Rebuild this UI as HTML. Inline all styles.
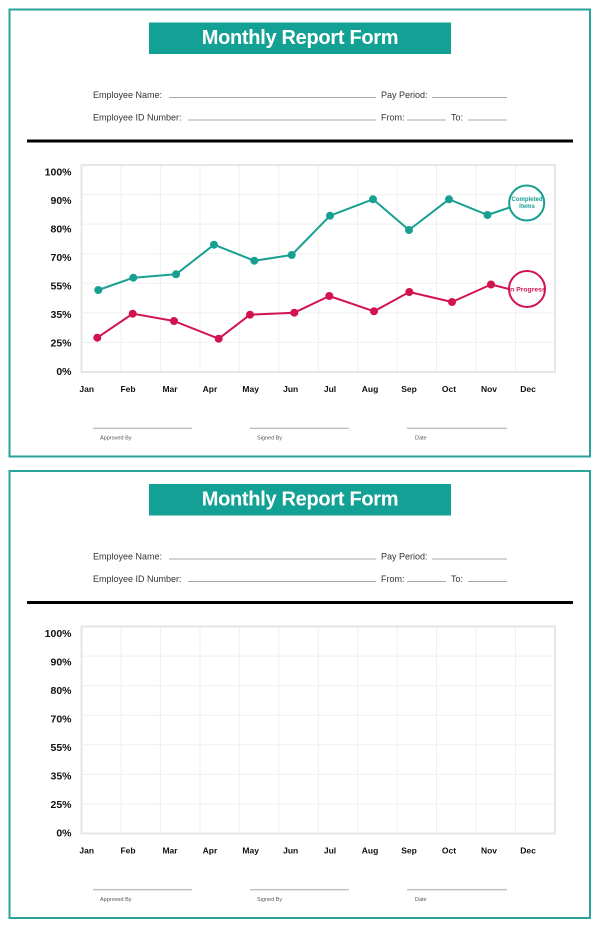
<!DOCTYPE html>
<html>
<head>
<meta charset="utf-8">
<style>
  html,body{margin:0;padding:0;background:#fff;}
  body{width:600px;height:928px;overflow:hidden;}
  svg{display:block;}
  .t{font-family:"Liberation Sans",Arial,sans-serif;}
</style>
</head>
<body>
<svg width="600" height="928" viewBox="0 0 600 928" xmlns="http://www.w3.org/2000/svg">
  <defs>
    <g id="panel">
      <rect x="9.5" y="9.5" width="580.5" height="447" fill="#fff" stroke="#2aa39a" stroke-width="2"/>
      <rect x="149" y="22.5" width="302" height="31.5" fill="#14a195"/>
      <text class="t" x="300" y="44" text-anchor="middle" font-size="20" font-weight="bold" fill="#fff" letter-spacing="-0.3">Monthly Report Form</text>

      <g class="t" font-size="9" fill="#333">
        <text x="93" y="98">Employee Name:</text>
        <text x="381" y="98">Pay Period:</text>
        <text x="93" y="120.5">Employee ID Number:</text>
        <text x="381" y="120.5">From:</text>
        <text x="451" y="120.5">To:</text>
      </g>
      <g stroke="#a8a8a8" stroke-width="1">
        <line x1="169" y1="97.5" x2="376" y2="97.5"/>
        <line x1="432" y1="97.5" x2="507" y2="97.5"/>
        <line x1="188" y1="120" x2="376" y2="120"/>
        <line x1="407" y1="120" x2="446" y2="120"/>
        <line x1="468" y1="120" x2="507" y2="120"/>
      </g>
      <rect x="27" y="139.5" width="546" height="3" fill="#000"/>

      <!-- grid -->
      <g stroke="#efefef" stroke-width="1">
        <line x1="81.5" y1="194.6" x2="555" y2="194.6"/>
        <line x1="81.5" y1="224.1" x2="555" y2="224.1"/>
        <line x1="81.5" y1="253.7" x2="555" y2="253.7"/>
        <line x1="81.5" y1="283.3" x2="555" y2="283.3"/>
        <line x1="81.5" y1="312.9" x2="555" y2="312.9"/>
        <line x1="81.5" y1="342.4" x2="555" y2="342.4"/>
        <line x1="121" y1="165" x2="121" y2="372"/>
        <line x1="160.4" y1="165" x2="160.4" y2="372"/>
        <line x1="199.9" y1="165" x2="199.9" y2="372"/>
        <line x1="239.3" y1="165" x2="239.3" y2="372"/>
        <line x1="278.8" y1="165" x2="278.8" y2="372"/>
        <line x1="318.3" y1="165" x2="318.3" y2="372"/>
        <line x1="357.7" y1="165" x2="357.7" y2="372"/>
        <line x1="397.2" y1="165" x2="397.2" y2="372"/>
        <line x1="436.6" y1="165" x2="436.6" y2="372"/>
        <line x1="476.1" y1="165" x2="476.1" y2="372"/>
        <line x1="515.5" y1="165" x2="515.5" y2="372"/>
      </g>
      <rect x="81.5" y="165" width="473.5" height="207" fill="none" stroke="#e6e6e6" stroke-width="2"/>

      <g class="t" font-size="10.5" font-weight="bold" fill="#111" text-anchor="end">
        <text x="71.5" y="175.3">100%</text>
        <text x="71.5" y="203.8">90%</text>
        <text x="71.5" y="232.4">80%</text>
        <text x="71.5" y="260.8">70%</text>
        <text x="71.5" y="289.4">55%</text>
        <text x="71.5" y="317.8">35%</text>
        <text x="71.5" y="346.3">25%</text>
        <text x="71.5" y="374.8">0%</text>
      </g>
      <g class="t" font-size="8.5" font-weight="bold" fill="#111" text-anchor="middle">
        <text x="86.7" y="392">Jan</text>
        <text x="128" y="392">Feb</text>
        <text x="170" y="392">Mar</text>
        <text x="210" y="392">Apr</text>
        <text x="250.7" y="392">May</text>
        <text x="290.7" y="392">Jun</text>
        <text x="330" y="392">Jul</text>
        <text x="370" y="392">Aug</text>
        <text x="409" y="392">Sep</text>
        <text x="449" y="392">Oct</text>
        <text x="489" y="392">Nov</text>
        <text x="528" y="392">Dec</text>
      </g>

      <g stroke="#a8a8a8" stroke-width="1">
        <line x1="93" y1="428.2" x2="192" y2="428.2"/>
        <line x1="250" y1="428.2" x2="349" y2="428.2"/>
        <line x1="407" y1="428.2" x2="507" y2="428.2"/>
      </g>
      <g class="t" font-size="5.5" fill="#555">
        <text x="100" y="439.5">Approved By</text>
        <text x="257" y="439.5">Signed By</text>
        <text x="415" y="439.5">Date</text>
      </g>
    </g>
  </defs>

  <use href="#panel"/>
  <use href="#panel" transform="translate(0,461.5)"/>

  <!-- series on top chart -->
  <g fill="none" stroke-width="2" stroke-linejoin="round">
    <polyline stroke="#17a092" points="98.3,290 133.3,277.7 176,274.3 214,244.7 254.3,260.7 291.7,255 330,215.7 373,199.3 409,230 449,199.3 487.5,215 509.5,207.5"/>
    <polyline stroke="#d3134f" points="97.3,337.7 132.7,313.7 174,321 218.7,338.7 250,314.7 294.3,312.7 329.3,296 374,311.3 409.3,292 452,302 491,284.5 509,289"/>
  </g>
  <g fill="#17a092">
    <circle cx="98.3" cy="290" r="4"/>
    <circle cx="133.3" cy="277.7" r="4"/>
    <circle cx="176" cy="274.3" r="4"/>
    <circle cx="214" cy="244.7" r="4"/>
    <circle cx="254.3" cy="260.7" r="4"/>
    <circle cx="291.7" cy="255" r="4"/>
    <circle cx="330" cy="215.7" r="4"/>
    <circle cx="373" cy="199.3" r="4"/>
    <circle cx="409" cy="230" r="4"/>
    <circle cx="449" cy="199.3" r="4"/>
    <circle cx="487.5" cy="215" r="4"/>
  </g>
  <g fill="#d3134f">
    <circle cx="97.3" cy="337.7" r="4"/>
    <circle cx="132.7" cy="313.7" r="4"/>
    <circle cx="174" cy="321" r="4"/>
    <circle cx="218.7" cy="338.7" r="4"/>
    <circle cx="250" cy="314.7" r="4"/>
    <circle cx="294.3" cy="312.7" r="4"/>
    <circle cx="329.3" cy="296" r="4"/>
    <circle cx="374" cy="311.3" r="4"/>
    <circle cx="409.3" cy="292" r="4"/>
    <circle cx="452" cy="302" r="4"/>
    <circle cx="491" cy="284.5" r="4"/>
  </g>
  <circle cx="526.7" cy="203" r="17.5" fill="#fff" stroke="#17a092" stroke-width="2"/>
  <circle cx="527" cy="289" r="18" fill="#fff" stroke="#d3134f" stroke-width="2"/>
  <g class="t" font-weight="bold" text-anchor="middle">
    <text x="527" y="201" font-size="6" fill="#17a092">Completed</text>
    <text x="527" y="208" font-size="6" fill="#17a092">Items</text>
    <text x="527" y="291.5" font-size="6.8" fill="#d3134f">In Progress</text>
  </g>
</svg>
</body>
</html>
